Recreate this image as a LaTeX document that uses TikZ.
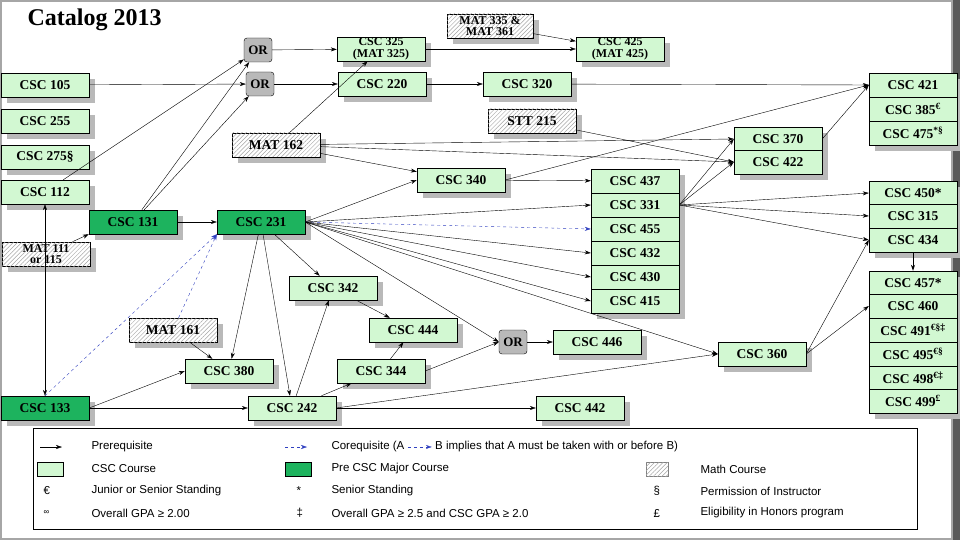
\documentclass[tikz,border=0pt]{standalone}
\usepackage{fontspec}
\setmainfont{Liberation Serif}
\newfontfamily\sans{Liberation Sans}
\usetikzlibrary{arrows.meta,patterns.meta,shadows}
\definecolor{lg}{HTML}{D2F8D2}
\definecolor{dg}{HTML}{1DB35E}
\definecolor{cb}{HTML}{3040C0}
\begin{document}
\begin{tikzpicture}[x=1pt,y=-1pt,
 base/.style={draw,minimum width=88,minimum height=24,inner sep=1pt,font=\fontsize{13.5}{13.5}\bfseries\selectfont,
   drop shadow={shadow xshift=6pt,shadow yshift=-6pt,fill=gray!55,opacity=1}},
 two/.style={align=center,font=\fontsize{12}{11.5}\bfseries\selectfont},
 box/.style={base,fill=lg},
 pre/.style={base,fill=dg},
 mat/.style={base,fill=white,postaction={pattern={Lines[angle=45,distance=3pt,line width=0.5pt]},pattern color=gray!70}},
 orn/.style={draw,fill=gray!55,rounded corners=3pt,minimum width=28,minimum height=24,inner sep=1pt,font=\fontsize{13}{13}\bfseries\selectfont},
 ar/.style={-{Stealth[length=6pt,width=4pt]},thin},
 co/.style={ar,dashed,cb},
 lt/.style={font=\sans\fontsize{11.5}{11.5}\selectfont,anchor=west}]
\useasboundingbox (0,0) rectangle (960,540);
\fill[white] (0,0) rectangle (960,540);
\draw[gray!70,line width=1.5] (1,1) rectangle (952,539);
\fill[gray!70!black] (953,0) rectangle (960,540);
\node[anchor=west,font=\fontsize{24}{24}\bfseries\selectfont] (title) at (24,20) {Catalog 2013};
\node[box] (c105) at (45,85) {CSC 105};
\node[box] (c255) at (45,121) {CSC 255};
\node[box] (c275) at (45,157) {CSC 275§};
\node[box] (c112) at (45,192) {CSC 112};
\node[pre] (c131) at (133,222) {CSC 131};
\node[pre] (c231) at (261,222) {CSC 231};
\node[mat,two] (m111) at (46,254) {MAT 111\\or 115};
\node[pre] (c133) at (45,408) {CSC 133};
\node[orn] (or1) at (258,50) {OR};
\node[orn] (or2) at (260,84) {OR};
\node[box,two] (c325) at (381,49) {CSC 325\\(MAT 325)};
\node[box] (c220) at (382,84) {CSC 220};
\node[box] (c320) at (527,84) {CSC 320};
\node[mat,two,minimum width=86] (m335) at (490,26) {MAT 335 \&\\MAT 361};
\node[box,two] (c425) at (620,49) {CSC 425\\(MAT 425)};
\node[mat] (s215) at (532,121) {STT 215};
\node[mat] (m162) at (276,145) {MAT 162};
\node[box] (c340) at (461,180) {CSC 340};
\node[box] (c437) at (635,181) {CSC 437};
\node[box] (c331) at (635,205) {CSC 331};
\node[box] (c455) at (635,229) {CSC 455};
\node[box] (c432) at (635,253) {CSC 432};
\node[box] (c430) at (635,277) {CSC 430};
\node[box] (c415) at (635,301) {CSC 415};
\node[box] (c370) at (778,139) {CSC 370};
\node[box] (c422) at (778,162) {CSC 422};
\node[box] (c421) at (913,85) {CSC 421};
\node[box] (c385) at (913,109) {CSC 385\textsuperscript{€}};
\node[box] (c475) at (913,133) {CSC 475\textsuperscript{*§}};
\node[box] (c450) at (913,193) {CSC 450*};
\node[box] (c315) at (913,216) {CSC 315};
\node[box] (c434) at (913,240) {CSC 434};
\node[box] (c457) at (913,283) {CSC 457*};
\node[box] (c460) at (913,306) {CSC 460};
\node[box] (c491) at (913,330) {CSC 491\textsuperscript{€§‡}};
\node[box] (c495) at (913,354) {CSC 495\textsuperscript{€§}};
\node[box] (c498) at (913,378) {CSC 498\textsuperscript{€‡}};
\node[box] (c499) at (913,401) {CSC 499\textsuperscript{£}};
\node[box] (c360) at (762,354) {CSC 360};
\node[box] (c342) at (333,288) {CSC 342};
\node[box] (c444) at (413,330) {CSC 444};
\node[box] (c344) at (381,371) {CSC 344};
\node[box] (c380) at (229,371) {CSC 380};
\node[mat] (m161) at (173,330) {MAT 161};
\node[box] (c242) at (292,408) {CSC 242};
\node[orn] (or3) at (513,342) {OR};
\node[box] (c446) at (597,342) {CSC 446};
\node[box] (c442) at (580,408) {CSC 442};
\draw[ar] (c112) -- (or1);
\draw[ar] (c131) -- (or1);
\draw[ar] (c131) -- (or2);
\draw[ar] (c105) -- (or2);
\draw[ar] (or1) -- (c325);
\draw[ar] (or2) -- (c220);
\draw[ar] (m162) -- (c325);
\draw[ar] (c325) -- (c425);
\draw[ar] (m335) -- (c425);
\draw[ar] (c220) -- (c320);
\draw[ar] (c320) -- (c421.west);
\draw[ar] (s215) -- (c422.west);
\draw[ar] (m162) -- (c370.west);
\draw[ar] (m162) -- (c422.west);
\draw[ar] (m162) -- (c340);
\draw[ar] (c340) -- (c437);
\draw[ar] (c340.east) -- (c421.west);
\draw[ar] (c331.east) -- (c370.west);
\draw[ar] (c331.east) -- (c422.west);
\draw[ar] (c331.east) -- (c450.west);
\draw[ar] (c331.east) -- (c315.west);
\draw[ar] (c331.east) -- (c434.west);
\draw[ar] (c370.east) -- (c421.west);
\draw[ar,thick] (c434) -- (c457);
\draw[ar] (c360.east) -- (c434.west);
\draw[ar] (c360.east) -- (c460.west);
\draw[ar] (c231.east) -- (c340.west);
\draw[ar] (c231.east) -- (c331.west);
\draw[co] (c231.east) -- (c455.west);
\draw[ar] (c231.east) -- (c432.west);
\draw[ar] (c231.east) -- (c430.west);
\draw[ar] (c231.east) -- (c415.west);
\draw[ar] (c231.east) -- (c360.west);
\draw[ar] (c231.east) -- (or3.west);
\draw[ar] (c231) -- (c342);
\draw[ar] (c231) -- (c380);
\draw[ar] (c231) -- (c242);
\draw[ar] (c242) -- (c342);
\draw[ar] (c242) -- (c344);
\draw[ar] (c242.east) -- (c360.west);
\draw[ar] (c242) -- (c442);
\draw[ar] (c342) -- (c444);
\draw[ar] (c344) -- (c444);
\draw[ar] (c344.east) -- (or3.west);
\draw[ar] (or3) -- (c446);
\draw[ar] (m161) -- (c380);
\draw[co] (m161) -- (c231.south west);
\draw[co] (c133.north) -- (c231.south west);
\draw[ar] (c133.east) -- (c380.west);
\draw[ar] (c133) -- (c242);
\draw[ar] (m111) -- (c131.south west);
\draw[{Stealth[length=6pt,width=4pt]}-{Stealth[length=6pt,width=4pt]}] (c112) -- (c133);
\draw[ar] (c131) -- (c231);
% legend
\draw (33,428) rectangle (917,529);
\coordinate (la1) at (40,447); \coordinate (la2) at (62,447);
\draw[ar] (la1) -- (la2);
\node[lt] (l1) at (88,447) {Prerequisite};
\coordinate (lb1) at (285,447); \coordinate (lb2) at (307,447);
\draw[co] (lb1) -- (lb2);
\node[lt] (l2) at (328,447) {Corequisite (A \tikz[baseline=-3pt]\draw[-{Stealth[length=6pt,width=4pt]},dashed,cb] (0,0)--(24pt,0);\ B implies that A must be taken with or before B)};
\node[draw,fill=lg,minimum width=26,minimum height=14] (k1) at (50,469) {};
\node[lt] (l3) at (88,469) {CSC Course};
\node[draw,fill=dg,minimum width=26,minimum height=14] (k2) at (298,469) {};
\node[lt] (l4) at (328,469) {Pre CSC Major Course};
\node[draw=gray,fill=white,postaction={pattern={Lines[angle=45,distance=3pt,line width=0.5pt]},pattern color=gray!70},minimum width=22,minimum height=14] (k3) at (657,469) {};
\node[lt] (l5) at (697,469) {Math Course};
\node[lt] (s1) at (40,491) {€};
\node[lt] (l6) at (88,491) {Junior or Senior Standing};
\node[lt] (s2) at (293,491) {*};
\node[lt] (l7) at (328,491) {Senior Standing};
\node[lt] (s3) at (650,491) {§};
\node[lt] (l8) at (697,491) {Permission of Instructor};
\node[lt] (s4) at (40,513) {\fontsize{8}{8}\selectfont∞};
\node[lt] (l9) at (88,513) {Overall GPA ≥ 2.00};
\node[lt] (s5) at (293,513) {‡};
\node[lt] (l10) at (328,513) {Overall GPA ≥ 2.5 and CSC GPA ≥ 2.0};
\node[lt] (s6) at (650,513) {£};
\node[lt] (l11) at (697,513) {Eligibility in Honors program};
\end{tikzpicture}
\end{document}
